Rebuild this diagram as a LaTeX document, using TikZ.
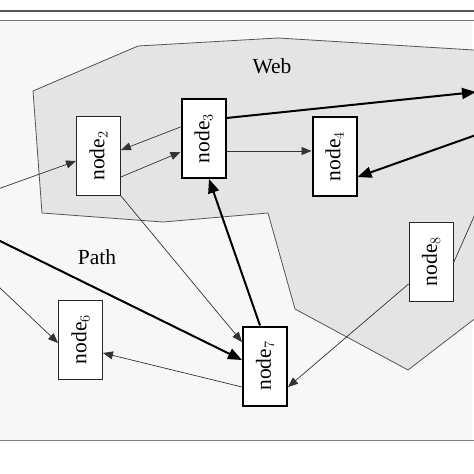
\documentclass[tikz,border=0pt]{standalone}
\usepackage{fontspec}
\setmainfont{Liberation Serif}
\usetikzlibrary{arrows.meta}
\definecolor{bglight}{HTML}{F7F7F7}
\definecolor{webgray}{HTML}{E4E4E4}
\definecolor{lineg}{HTML}{555555}
\tikzset{
  box/.style={draw=black!85, fill=white, line width=0.9pt, minimum width=44pt, minimum height=79pt, inner sep=0pt, font=\fontsize{21.5}{21.5}\selectfont},
  boxthick/.style={box, draw=black, line width=2pt},
  thinarrow/.style={draw=black!80, line width=0.7pt, -{Triangle[length=10pt,width=8pt]}},
  thickarrow/.style={draw=black, line width=2pt, -{Triangle[length=14pt,width=11pt]}},
  plainline/.style={draw=black!80, line width=0.7pt},
  clabel/.style={font=\fontsize{21.5}{21.5}\selectfont, inner sep=0pt}
}
\newcommand{\rtext}[1]{\rotatebox{90}{#1}}
\begin{document}
\begin{tikzpicture}[x=1pt,y=-1pt]
\useasboundingbox (0,0) rectangle (474,474);
\clip (0,0) rectangle (474,474);
% frame
\fill[bglight] (0,20) rectangle (472,440);
\draw[lineg, line width=1.2pt] (0,11) -- (474,11);
\draw[black!55, line width=0.9pt] (0,20) -- (474,20);
\draw[black!50, line width=0.9pt] (0,440) -- (474,440);
% Web cluster
\filldraw[fill=webgray, draw=lineg, line width=0.8pt]
  (33,91) -- (138,46) -- (278,38) -- (490,51) -- (490,307) -- (408,370)
  -- (295,309) -- (268,213) -- (163,222) -- (42,213) -- cycle;
\node[clabel] (web) at (272,66) {Web};
\node[clabel] (path) at (97,257) {Path};
% nodes
\node[box] (n2) at (98.5,156) {\rtext{node$_2$}};
\node[boxthick] (n3) at (203.5,138.5) {\rtext{node$_3$}};
\node[boxthick] (n4) at (334.5,156.5) {\rtext{node$_4$}};
\node[box] (n6) at (80.5,339.5) {\rtext{node$_6$}};
\node[boxthick] (n7) at (265,366) {\rtext{node$_7$}};
\node[box] (n8) at (431,261.5) {\rtext{node$_8$}};
% free ends
\coordinate (l1) at (-2,189);
\coordinate (l2) at (-2,240);
\coordinate (l3) at (-2,286);
\coordinate (r1) at (476,92);
\coordinate (r2) at (476,135);
\coordinate (r3) at (476,212);
% edges
\draw[thinarrow] (l1) -- ([yshift=-5pt]n2.west);
\draw[thinarrow] ([yshift=11.5pt]n3.west) -- ([yshift=6pt]n2.east);
\draw[thinarrow] ([yshift=-21pt]n2.east) -- ([yshift=-13.5pt]n3.west);
\draw[thickarrow] ([yshift=20.5pt]n3.east) -- (r1);
\draw[thinarrow] ([yshift=-12.5pt]n3.east) -- ([yshift=5.5pt]n4.west);
\draw[thickarrow] (r2) -- ([yshift=-20.5pt]n4.east);
\draw[thickarrow] ([xshift=-5pt]n7.north) -- ([xshift=5.5pt]n3.south);
\draw[thinarrow] (n2.south east) -- ([yshift=24pt]n7.west);
\draw[thickarrow] (l2) -- ([yshift=6pt]n7.west);
\draw[thinarrow] (l3) -- ([yshift=-3.5pt]n6.west);
\draw[thinarrow] ([yshift=-21pt]n7.west) -- ([yshift=-13.5pt]n6.east);
\draw[thinarrow] ([yshift=-22.5pt]n8.west) -- ([yshift=-21pt]n7.east);
\draw[plainline] ([yshift=-1.5pt]n8.east) -- (r3);
\end{tikzpicture}
\end{document}
